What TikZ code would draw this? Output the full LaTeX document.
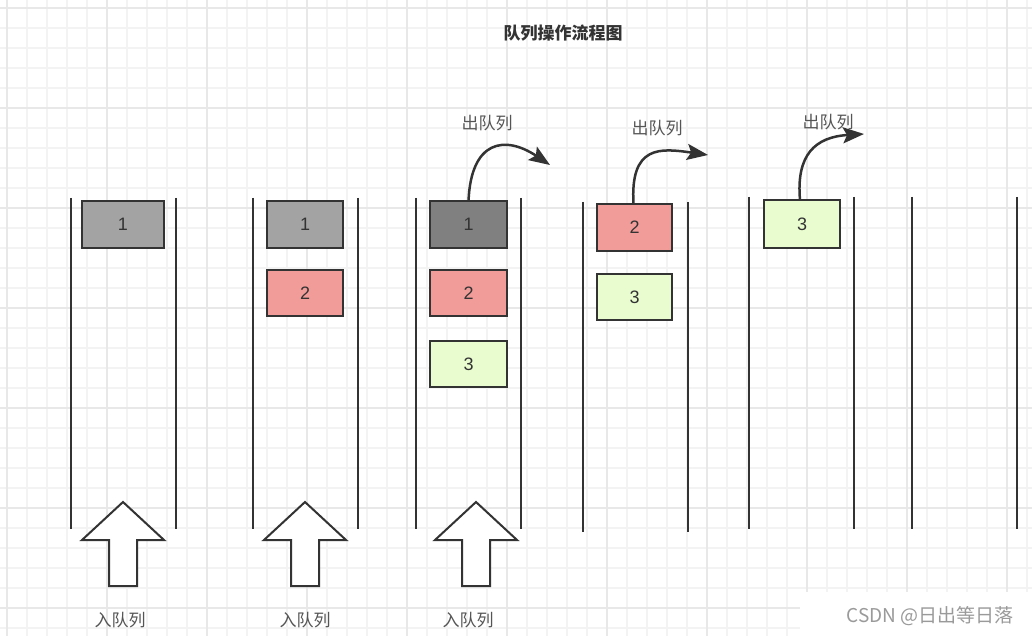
\documentclass[tikz,border=0pt]{standalone}
\usepackage{fontspec}
\setmainfont{Liberation Sans}
\newfontfamily\cjk{Noto Sans CJK SC}
\usetikzlibrary{arrows.meta}
\definecolor{gridminor}{HTML}{F3F3F3}
\definecolor{gridmajor}{HTML}{E8E8E8}
\definecolor{ink}{HTML}{333333}
\definecolor{lightgray}{HTML}{A3A3A3}
\definecolor{darkgray}{HTML}{808080}
\definecolor{pink}{HTML}{F19C99}
\definecolor{palegreen}{HTML}{E8FCCF}
\definecolor{labelgray}{HTML}{555555}
\definecolor{wmgray}{HTML}{9A9A9A}
\tikzset{
  qbox/.style={draw=ink, line width=2pt, rectangle, inner sep=0pt, font=\fontsize{18}{18}\selectfont, text=ink},
  wall/.style={draw=ink, line width=2.5pt},
  blockarrow/.style={draw=ink, line width=2pt, fill=white, line join=miter},
  outarrow/.style={draw=ink, line width=2.5pt, -{Stealth[length=21pt,width=16pt,inset=4pt]}},
  cnlabel/.style={font=\cjk\fontsize{17}{17}\selectfont, text=labelgray, inner sep=0pt},
}
\begin{document}
\begin{tikzpicture}[x=1pt,y=-1pt]
\useasboundingbox (0,0) rectangle (1032,636);
\fill[white] (0,0) rectangle (1032,636);
% grid
\foreach \i in {0,...,51} {\draw[gridminor, line width=1.2pt] (7+20*\i,0) -- (7+20*\i,636);}
\foreach \j in {0,...,31} {\draw[gridminor, line width=1.2pt] (0,8+20*\j) -- (1032,8+20*\j);}
\foreach \i in {0,...,10} {\draw[gridmajor, line width=1.4pt] (7+100*\i,0) -- (7+100*\i,636);}
\foreach \j in {0,...,6} {\draw[gridmajor, line width=1.4pt] (0,8+100*\j) -- (1032,8+100*\j);}
\fill[white] (800,592) rectangle (1032,636);

% title
\node[font=\cjk\bfseries\fontsize{17}{17}\selectfont, text=ink] (title) at (563,33) {队列操作流程图};

% walls
\foreach \xl/\xr/\yt/\yb in {71/176/198/529, 253/358/198/529, 416/521/198/529, 583/688/202/532, 749/854/197/529, 912/1017/197/529} {
  \draw[wall] (\xl,\yt) -- (\xl,\yb);
  \draw[wall] (\xr,\yt) -- (\xr,\yb);
}

% column 1
\node[qbox, fill=lightgray, minimum width=82pt, minimum height=47pt] (a1) at (123,224.5) {1};
% column 2
\node[qbox, fill=lightgray, minimum width=76pt, minimum height=47pt] (b1) at (305,224.5) {1};
\node[qbox, fill=pink, minimum width=76pt, minimum height=46pt, text=ink] (b2) at (305,293) {2};
% column 3
\node[qbox, fill=darkgray, minimum width=77pt, minimum height=47pt] (c1) at (468.5,224.5) {1};
\node[qbox, fill=pink, minimum width=77pt, minimum height=46pt] (c2) at (468.5,293) {2};
\node[qbox, fill=palegreen, minimum width=77pt, minimum height=46pt] (c3) at (468.5,364) {3};
% column 4
\node[qbox, fill=pink, minimum width=75pt, minimum height=47pt] (d2) at (634.5,227.5) {2};
\node[qbox, fill=palegreen, minimum width=75pt, minimum height=46pt] (d3) at (634.5,297) {3};
% column 5
\node[qbox, fill=palegreen, minimum width=76pt, minimum height=48pt] (e3) at (802,224) {3};

% dequeue arrows
\coordinate (c1end) at (550,165);
\coordinate (d2end) at (708,155);
\coordinate (e3end) at (864,134);
\draw[outarrow] (c1.north) ++(0,1) .. controls (471,140) and (505,135) .. (c1end);
\draw[outarrow] (d2.north) ++(-1,1) .. controls (630,145) and (660,148) .. (d2end);
\draw[outarrow] (e3.north) ++(-2,1) .. controls (796,155) and (815,137) .. (e3end);
\node[cnlabel] (o1) at (487,123) {出队列};
\node[cnlabel] (o2) at (657,128) {出队列};
\node[cnlabel] (o3) at (828,122) {出队列};

% enqueue block arrows
\foreach \c in {123,305,476} {
  \draw[blockarrow] (\c,502) -- (\c+41,540) -- (\c+14,540) -- (\c+14,586) -- (\c-14,586) -- (\c-14,540) -- (\c-41,540) -- cycle;
}
\node[cnlabel] (i1) at (120,620) {入队列};
\node[cnlabel] (i2) at (305,620) {入队列};
\node[cnlabel] (i3) at (468,620) {入队列};

% watermark
\node[font=\cjk\fontsize{19}{19}\selectfont, text=wmgray] (wm) at (930,616) {CSDN @日出等日落};
\end{tikzpicture}
\end{document}
